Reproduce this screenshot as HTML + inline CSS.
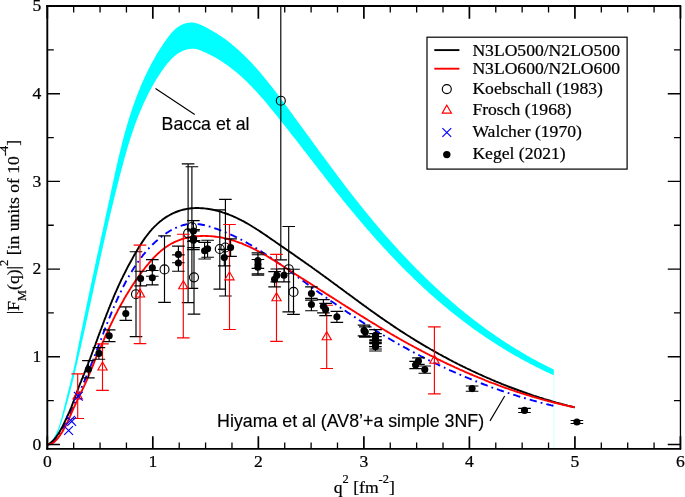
<!DOCTYPE html>
<html lang="en"><head><meta charset="utf-8"><title>|F_M(q)|^2 form factor</title>
<style>html,body{margin:0;padding:0;background:#fff}svg{display:block}.ser{font-family:"Liberation Serif","Times New Roman",serif;stroke:#000;stroke-width:0.22px}.san{font-family:"Liberation Sans",Arial,Helvetica,sans-serif;stroke:#000;stroke-width:0.15px}</style></head><body>
<svg width="685" height="497" viewBox="0 0 685 497">
<rect width="685" height="497" fill="#fff"/>
<path d="M47.6 444.7 L48.8 443.7 L49.9 442.7 L51.0 441.6 L52.0 440.4 L52.9 439.2 L53.7 437.9 L54.5 436.6 L55.3 435.2 L56.0 433.8 L56.6 432.4 L57.2 431.0 L57.8 429.5 L58.4 428.0 L58.9 426.6 L59.4 425.1 L59.9 423.6 L60.3 422.1 L60.8 420.6 L61.2 419.1 L61.6 417.6 L62.0 416.1 L62.4 414.6 L62.8 413.1 L63.1 411.6 L63.5 410.1 L63.9 408.6 L64.2 407.1 L64.6 405.6 L65.0 404.1 L65.3 402.6 L65.7 401.1 L66.1 399.6 L66.5 398.1 L66.9 396.6 L67.2 395.1 L67.6 393.6 L68.0 392.1 L68.4 390.6 L68.8 389.1 L69.1 387.6 L69.5 386.1 L69.9 384.5 L70.3 383.0 L70.6 381.5 L71.0 380.0 L71.4 378.5 L71.7 377.0 L72.1 375.5 L72.5 374.0 L72.8 372.5 L73.2 371.0 L73.5 369.5 L73.9 367.9 L74.2 366.4 L74.5 364.9 L74.9 363.4 L75.2 361.9 L75.5 360.4 L75.8 358.8 L76.1 357.3 L76.4 355.8 L76.7 354.3 L77.0 352.7 L77.3 351.2 L77.6 349.7 L77.9 348.2 L78.2 346.7 L78.5 345.1 L78.8 343.6 L79.1 342.1 L79.4 340.6 L79.7 339.0 L80.0 337.5 L80.3 336.0 L80.6 334.5 L80.9 333.0 L81.2 331.4 L81.6 329.9 L81.9 328.4 L82.2 326.9 L82.5 325.4 L82.8 323.8 L83.1 322.3 L83.4 320.8 L83.7 319.3 L84.0 317.8 L84.3 316.2 L84.7 314.7 L85.0 313.2 L85.3 311.7 L85.6 310.2 L85.9 308.6 L86.2 307.1 L86.5 305.6 L86.9 304.1 L87.2 302.6 L87.5 301.0 L87.8 299.5 L88.1 298.0 L88.4 296.5 L88.8 295.0 L89.1 293.5 L89.4 291.9 L89.7 290.4 L90.0 288.9 L90.4 287.4 L90.7 285.9 L91.0 284.4 L91.3 282.8 L91.7 281.3 L92.0 279.8 L92.3 278.3 L92.6 276.8 L93.0 275.3 L93.3 273.7 L93.6 272.2 L93.9 270.7 L94.3 269.2 L94.6 267.7 L94.9 266.2 L95.2 264.6 L95.6 263.1 L95.9 261.6 L96.2 260.1 L96.5 258.6 L96.9 257.1 L97.2 255.5 L97.5 254.0 L97.9 252.5 L98.2 251.0 L98.5 249.5 L98.8 248.0 L99.2 246.4 L99.5 244.9 L99.8 243.4 L100.2 241.9 L100.5 240.4 L100.8 238.9 L101.1 237.3 L101.5 235.8 L101.8 234.3 L102.1 232.8 L102.5 231.3 L102.8 229.8 L103.1 228.2 L103.4 226.7 L103.8 225.2 L104.1 223.7 L104.4 222.2 L104.8 220.7 L105.1 219.1 L105.4 217.6 L105.7 216.1 L106.1 214.6 L106.4 213.1 L106.7 211.6 L107.1 210.0 L107.4 208.5 L107.7 207.0 L108.0 205.5 L108.4 204.0 L108.7 202.5 L109.0 200.9 L109.4 199.4 L109.7 197.9 L110.0 196.4 L110.3 194.9 L110.7 193.4 L111.0 191.8 L111.3 190.3 L111.6 188.8 L112.0 187.3 L112.3 185.8 L112.6 184.2 L112.9 182.7 L113.3 181.2 L113.6 179.7 L113.9 178.2 L114.3 176.7 L114.6 175.1 L114.9 173.6 L115.3 172.1 L115.6 170.6 L115.9 169.1 L116.3 167.6 L116.6 166.1 L117.0 164.5 L117.3 163.0 L117.7 161.5 L118.0 160.0 L118.4 158.5 L118.7 157.0 L119.1 155.5 L119.4 154.0 L119.8 152.5 L120.2 151.0 L120.5 149.5 L120.9 147.9 L121.3 146.4 L121.6 144.9 L122.0 143.4 L122.4 141.9 L122.8 140.4 L123.2 138.9 L123.6 137.4 L124.0 135.9 L124.4 134.4 L124.8 133.0 L125.2 131.5 L125.6 130.0 L126.1 128.5 L126.5 127.0 L126.9 125.5 L127.4 124.0 L127.8 122.5 L128.3 121.0 L128.7 119.6 L129.2 118.1 L129.6 116.6 L130.1 115.1 L130.6 113.7 L131.1 112.2 L131.5 110.7 L132.0 109.2 L132.5 107.8 L133.0 106.3 L133.6 104.8 L134.1 103.4 L134.6 101.9 L135.1 100.5 L135.7 99.0 L136.2 97.6 L136.8 96.1 L137.3 94.7 L137.9 93.2 L138.5 91.8 L139.0 90.3 L139.6 88.9 L140.2 87.5 L140.8 86.0 L141.4 84.6 L142.0 83.2 L142.6 81.8 L143.3 80.3 L143.9 78.9 L144.6 77.5 L145.2 76.1 L145.9 74.7 L146.5 73.3 L147.2 71.9 L147.9 70.5 L148.6 69.1 L149.3 67.8 L150.0 66.4 L150.7 65.0 L151.5 63.6 L152.2 62.3 L152.9 60.9 L153.7 59.5 L154.5 58.2 L155.2 56.8 L156.0 55.5 L156.8 54.1 L157.6 52.8 L158.4 51.5 L159.2 50.2 L160.1 48.8 L160.9 47.5 L161.8 46.2 L162.6 44.9 L163.5 43.6 L164.4 42.3 L165.3 41.0 L166.2 39.7 L167.1 38.4 L168.0 37.2 L169.0 35.9 L169.9 34.7 L170.9 33.5 L171.9 32.4 L173.0 31.2 L174.1 30.2 L175.2 29.1 L176.3 28.2 L177.5 27.3 L178.8 26.4 L180.1 25.6 L181.4 24.9 L182.8 24.3 L184.2 23.7 L185.7 23.3 L187.2 22.9 L188.7 22.7 L190.3 22.5 L191.8 22.5 L193.4 22.6 L195.0 22.9 L196.5 23.3 L198.1 23.8 L199.7 24.4 L201.3 25.1 L202.8 25.8 L204.4 26.5 L205.9 27.3 L207.4 28.1 L208.9 28.9 L210.3 29.7 L211.8 30.5 L213.2 31.4 L214.7 32.2 L216.1 33.1 L217.5 34.0 L218.9 34.9 L220.3 35.8 L221.7 36.7 L223.0 37.7 L224.4 38.6 L225.7 39.6 L227.0 40.6 L228.3 41.6 L229.6 42.6 L230.9 43.6 L232.2 44.7 L233.5 45.7 L234.8 46.8 L236.0 47.9 L237.3 49.0 L238.5 50.1 L239.7 51.2 L240.9 52.3 L242.1 53.4 L243.3 54.6 L244.5 55.7 L245.7 56.9 L246.9 58.1 L248.0 59.2 L249.2 60.4 L250.3 61.6 L251.5 62.8 L252.6 64.1 L253.7 65.3 L254.9 66.5 L256.0 67.8 L257.1 69.0 L258.2 70.3 L259.3 71.5 L260.4 72.8 L261.5 74.1 L262.5 75.4 L263.6 76.6 L264.7 77.9 L265.7 79.2 L266.8 80.5 L267.8 81.8 L268.9 83.2 L269.9 84.5 L271.0 85.8 L272.0 87.1 L273.1 88.5 L274.1 89.8 L275.1 91.1 L276.1 92.5 L277.2 93.8 L278.2 95.2 L279.2 96.5 L280.2 97.9 L281.2 99.2 L282.2 100.6 L283.2 101.9 L284.2 103.3 L285.2 104.6 L286.3 106.0 L287.3 107.3 L288.3 108.7 L289.3 110.1 L290.3 111.4 L291.3 112.8 L292.3 114.1 L293.3 115.5 L294.3 116.9 L295.3 118.2 L296.3 119.6 L297.2 120.9 L298.2 122.3 L299.2 123.7 L300.2 125.0 L301.2 126.4 L302.2 127.7 L303.2 129.1 L304.2 130.5 L305.2 131.8 L306.2 133.2 L307.2 134.5 L308.2 135.9 L309.2 137.3 L310.2 138.6 L311.2 140.0 L312.2 141.3 L313.1 142.7 L314.1 144.1 L315.1 145.4 L316.1 146.8 L317.1 148.1 L318.1 149.5 L319.1 150.9 L320.1 152.2 L321.1 153.6 L322.1 154.9 L323.1 156.3 L324.1 157.6 L325.1 159.0 L326.1 160.3 L327.1 161.7 L328.1 163.0 L329.1 164.4 L330.1 165.7 L331.1 167.1 L332.1 168.4 L333.1 169.8 L334.1 171.1 L335.1 172.5 L336.1 173.8 L337.1 175.2 L338.1 176.5 L339.2 177.9 L340.2 179.2 L341.2 180.5 L342.2 181.9 L343.2 183.2 L344.2 184.5 L345.3 185.9 L346.3 187.2 L347.3 188.5 L348.3 189.9 L349.3 191.2 L350.4 192.5 L351.4 193.9 L352.4 195.2 L353.5 196.5 L354.5 197.8 L355.5 199.2 L356.6 200.5 L357.6 201.8 L358.7 203.1 L359.7 204.4 L360.8 205.7 L361.8 207.1 L362.9 208.4 L363.9 209.7 L365.0 211.0 L366.0 212.3 L367.1 213.6 L368.2 214.9 L369.2 216.2 L370.3 217.5 L371.4 218.8 L372.4 220.1 L373.5 221.4 L374.6 222.7 L375.7 223.9 L376.8 225.2 L377.8 226.5 L378.9 227.8 L380.0 229.1 L381.1 230.4 L382.2 231.6 L383.3 232.9 L384.4 234.2 L385.5 235.4 L386.6 236.7 L387.7 238.0 L388.9 239.2 L390.0 240.5 L391.1 241.7 L392.2 243.0 L393.3 244.2 L394.5 245.5 L395.6 246.7 L396.7 248.0 L397.9 249.2 L399.0 250.5 L400.1 251.7 L401.3 252.9 L402.4 254.2 L403.6 255.4 L404.7 256.6 L405.9 257.8 L407.0 259.1 L408.2 260.3 L409.4 261.5 L410.5 262.7 L411.7 263.9 L412.9 265.1 L414.0 266.3 L415.2 267.5 L416.4 268.7 L417.6 269.9 L418.8 271.1 L420.0 272.3 L421.1 273.5 L422.3 274.6 L423.5 275.8 L424.7 277.0 L425.9 278.2 L427.2 279.3 L428.4 280.5 L429.6 281.7 L430.8 282.8 L432.0 284.0 L433.2 285.1 L434.5 286.3 L435.7 287.4 L436.9 288.5 L438.2 289.7 L439.4 290.8 L440.6 291.9 L441.9 293.1 L443.1 294.2 L444.4 295.3 L445.6 296.4 L446.9 297.5 L448.1 298.6 L449.4 299.7 L450.7 300.8 L451.9 301.9 L453.2 303.0 L454.5 304.1 L455.8 305.2 L457.0 306.3 L458.3 307.4 L459.6 308.4 L460.9 309.5 L462.2 310.6 L463.5 311.6 L464.8 312.7 L466.1 313.7 L467.4 314.8 L468.7 315.8 L470.0 316.8 L471.4 317.9 L472.7 318.9 L474.0 319.9 L475.3 321.0 L476.7 322.0 L478.0 323.0 L479.3 324.0 L480.7 325.0 L482.0 326.0 L483.4 327.0 L484.7 328.0 L486.1 329.0 L487.4 329.9 L488.8 330.9 L490.2 331.9 L491.5 332.8 L492.9 333.8 L494.3 334.8 L495.7 335.7 L497.0 336.7 L498.4 337.6 L499.8 338.5 L501.2 339.5 L502.6 340.4 L504.0 341.3 L505.4 342.2 L506.8 343.2 L508.2 344.1 L509.7 345.0 L511.1 345.9 L512.5 346.8 L513.9 347.6 L515.3 348.5 L516.8 349.4 L518.2 350.3 L519.7 351.1 L521.1 352.0 L522.5 352.8 L524.0 353.7 L525.5 354.5 L526.9 355.4 L528.4 356.2 L529.8 357.0 L531.3 357.9 L532.8 358.7 L534.3 359.5 L535.7 360.3 L537.2 361.1 L538.7 361.9 L540.2 362.7 L541.7 363.5 L543.2 364.2 L544.7 365.0 L546.2 365.8 L547.7 366.5 L549.2 367.3 L550.8 368.0 L552.3 368.8 L553.8 369.5 L553.8 375.2 L552.3 374.6 L550.8 373.9 L549.3 373.2 L547.8 372.5 L546.4 371.9 L544.9 371.2 L543.4 370.5 L541.9 369.7 L540.5 369.0 L539.0 368.3 L537.5 367.6 L536.1 366.9 L534.6 366.1 L533.2 365.4 L531.7 364.6 L530.2 363.9 L528.8 363.1 L527.3 362.3 L525.9 361.6 L524.5 360.8 L523.0 360.0 L521.6 359.2 L520.1 358.4 L518.7 357.6 L517.3 356.8 L515.8 356.0 L514.4 355.2 L513.0 354.4 L511.6 353.6 L510.2 352.7 L508.7 351.9 L507.3 351.0 L505.9 350.2 L504.5 349.3 L503.1 348.5 L501.7 347.6 L500.3 346.8 L498.9 345.9 L497.5 345.0 L496.1 344.1 L494.7 343.2 L493.4 342.3 L492.0 341.4 L490.6 340.5 L489.2 339.6 L487.9 338.7 L486.5 337.8 L485.1 336.9 L483.8 336.0 L482.4 335.0 L481.0 334.1 L479.7 333.2 L478.3 332.2 L477.0 331.3 L475.7 330.3 L474.3 329.4 L473.0 328.4 L471.6 327.4 L470.3 326.5 L469.0 325.5 L467.7 324.5 L466.3 323.5 L465.0 322.5 L463.7 321.6 L462.4 320.6 L461.1 319.6 L459.8 318.6 L458.5 317.6 L457.2 316.5 L455.9 315.5 L454.6 314.5 L453.4 313.5 L452.1 312.5 L450.8 311.4 L449.5 310.4 L448.3 309.4 L447.0 308.3 L445.7 307.3 L444.5 306.2 L443.2 305.2 L442.0 304.1 L440.7 303.1 L439.5 302.0 L438.2 300.9 L437.0 299.9 L435.8 298.8 L434.5 297.7 L433.3 296.6 L432.1 295.5 L430.8 294.5 L429.6 293.4 L428.4 292.3 L427.2 291.2 L426.0 290.1 L424.8 289.0 L423.6 287.9 L422.4 286.7 L421.2 285.6 L420.0 284.5 L418.8 283.4 L417.6 282.3 L416.4 281.1 L415.2 280.0 L414.0 278.9 L412.9 277.7 L411.7 276.6 L410.5 275.5 L409.4 274.3 L408.2 273.2 L407.0 272.0 L405.9 270.9 L404.7 269.7 L403.6 268.5 L402.4 267.4 L401.3 266.2 L400.1 265.0 L399.0 263.9 L397.8 262.7 L396.7 261.5 L395.5 260.3 L394.4 259.2 L393.3 258.0 L392.2 256.8 L391.0 255.6 L389.9 254.4 L388.8 253.2 L387.7 252.0 L386.6 250.8 L385.4 249.6 L384.3 248.4 L383.2 247.2 L382.1 246.0 L381.0 244.8 L379.9 243.6 L378.8 242.4 L377.7 241.1 L376.6 239.9 L375.5 238.7 L374.4 237.5 L373.4 236.3 L372.3 235.0 L371.2 233.8 L370.1 232.6 L369.0 231.3 L367.9 230.1 L366.9 228.9 L365.8 227.6 L364.7 226.4 L363.7 225.1 L362.6 223.9 L361.5 222.6 L360.5 221.4 L359.4 220.1 L358.4 218.9 L357.3 217.6 L356.2 216.4 L355.2 215.1 L354.1 213.8 L353.1 212.6 L352.0 211.3 L351.0 210.1 L350.0 208.8 L348.9 207.5 L347.9 206.3 L346.8 205.0 L345.8 203.7 L344.8 202.4 L343.7 201.2 L342.7 199.9 L341.7 198.6 L340.7 197.3 L339.6 196.0 L338.6 194.8 L337.6 193.5 L336.6 192.2 L335.5 190.9 L334.5 189.6 L333.5 188.3 L332.5 187.0 L331.5 185.8 L330.5 184.5 L329.4 183.2 L328.4 181.9 L327.4 180.6 L326.4 179.3 L325.4 178.0 L324.4 176.7 L323.4 175.4 L322.4 174.1 L321.3 172.8 L320.3 171.5 L319.3 170.2 L318.3 168.9 L317.3 167.6 L316.3 166.3 L315.3 165.0 L314.3 163.7 L313.3 162.4 L312.3 161.1 L311.3 159.8 L310.3 158.5 L309.3 157.2 L308.3 155.9 L307.3 154.6 L306.3 153.3 L305.2 152.0 L304.2 150.7 L303.2 149.4 L302.2 148.1 L301.2 146.8 L300.2 145.5 L299.2 144.2 L298.2 142.9 L297.2 141.6 L296.2 140.3 L295.2 139.1 L294.2 137.8 L293.1 136.5 L292.1 135.2 L291.1 133.9 L290.1 132.6 L289.1 131.3 L288.1 130.0 L287.1 128.7 L286.0 127.4 L285.0 126.1 L284.0 124.8 L283.0 123.5 L281.9 122.2 L280.9 121.0 L279.9 119.7 L278.9 118.4 L277.8 117.1 L276.8 115.8 L275.8 114.5 L274.7 113.3 L273.7 112.0 L272.7 110.7 L271.6 109.4 L270.6 108.2 L269.5 106.9 L268.5 105.6 L267.4 104.4 L266.4 103.1 L265.3 101.8 L264.2 100.6 L263.2 99.3 L262.1 98.1 L261.0 96.9 L259.9 95.6 L258.9 94.4 L257.8 93.2 L256.7 92.0 L255.6 90.8 L254.4 89.6 L253.3 88.4 L252.2 87.2 L251.1 86.1 L249.9 84.9 L248.8 83.7 L247.6 82.6 L246.5 81.5 L245.3 80.3 L244.1 79.2 L243.0 78.1 L241.8 77.0 L240.6 75.9 L239.3 74.8 L238.1 73.8 L236.9 72.7 L235.7 71.7 L234.4 70.7 L233.2 69.7 L231.9 68.7 L230.6 67.7 L229.3 66.7 L228.0 65.7 L226.7 64.8 L225.4 63.9 L224.0 63.0 L222.7 62.1 L221.3 61.2 L220.0 60.3 L218.6 59.5 L217.2 58.6 L215.8 57.8 L214.3 57.0 L212.9 56.2 L211.4 55.5 L210.0 54.7 L208.5 54.0 L207.0 53.3 L205.5 52.6 L204.0 51.9 L202.4 51.3 L200.9 50.6 L199.3 50.0 L197.7 49.4 L196.1 48.9 L194.5 48.7 L193.0 48.7 L191.5 48.8 L190.0 48.9 L188.6 49.1 L187.2 49.4 L185.8 49.7 L184.5 50.2 L183.2 50.7 L181.9 51.2 L180.7 51.9 L179.4 52.6 L178.3 53.3 L177.1 54.1 L176.0 54.9 L174.9 55.8 L173.8 56.8 L172.7 57.7 L171.7 58.7 L170.7 59.8 L169.7 60.9 L168.7 62.0 L167.8 63.1 L166.8 64.3 L165.9 65.5 L165.0 66.6 L164.1 67.9 L163.2 69.1 L162.4 70.3 L161.5 71.5 L160.7 72.8 L159.9 74.0 L159.0 75.2 L158.2 76.5 L157.4 77.8 L156.6 79.0 L155.9 80.3 L155.1 81.5 L154.4 82.8 L153.6 84.1 L152.9 85.4 L152.1 86.6 L151.4 87.9 L150.7 89.2 L150.0 90.5 L149.3 91.8 L148.7 93.1 L148.0 94.4 L147.3 95.7 L146.7 97.0 L146.1 98.4 L145.4 99.7 L144.8 101.0 L144.2 102.3 L143.6 103.6 L143.0 105.0 L142.4 106.3 L141.8 107.7 L141.2 109.0 L140.7 110.3 L140.1 111.7 L139.5 113.0 L139.0 114.4 L138.4 115.7 L137.9 117.1 L137.4 118.5 L136.9 119.8 L136.4 121.2 L135.8 122.5 L135.3 123.9 L134.8 125.3 L134.4 126.7 L133.9 128.0 L133.4 129.4 L132.9 130.8 L132.5 132.2 L132.0 133.6 L131.5 134.9 L131.1 136.3 L130.6 137.7 L130.2 139.1 L129.8 140.5 L129.3 141.9 L128.9 143.3 L128.5 144.7 L128.0 146.1 L127.6 147.5 L127.2 148.9 L126.8 150.3 L126.4 151.7 L126.0 153.1 L125.6 154.5 L125.2 155.9 L124.8 157.3 L124.4 158.7 L124.0 160.2 L123.6 161.6 L123.2 163.0 L122.9 164.4 L122.5 165.8 L122.1 167.2 L121.7 168.6 L121.4 170.0 L121.0 171.5 L120.6 172.9 L120.2 174.3 L119.9 175.7 L119.5 177.1 L119.1 178.5 L118.8 179.9 L118.4 181.4 L118.1 182.8 L117.7 184.2 L117.3 185.6 L117.0 187.0 L116.6 188.5 L116.3 189.9 L115.9 191.3 L115.6 192.7 L115.2 194.1 L114.9 195.5 L114.5 197.0 L114.2 198.4 L113.8 199.8 L113.5 201.2 L113.1 202.7 L112.8 204.1 L112.4 205.5 L112.1 206.9 L111.8 208.3 L111.4 209.8 L111.1 211.2 L110.7 212.6 L110.4 214.0 L110.1 215.5 L109.7 216.9 L109.4 218.3 L109.1 219.7 L108.7 221.1 L108.4 222.6 L108.1 224.0 L107.8 225.4 L107.4 226.8 L107.1 228.3 L106.8 229.7 L106.4 231.1 L106.1 232.5 L105.8 234.0 L105.5 235.4 L105.1 236.8 L104.8 238.2 L104.5 239.7 L104.2 241.1 L103.9 242.5 L103.5 244.0 L103.2 245.4 L102.9 246.8 L102.6 248.2 L102.3 249.7 L101.9 251.1 L101.6 252.5 L101.3 253.9 L101.0 255.4 L100.7 256.8 L100.4 258.2 L100.0 259.7 L99.7 261.1 L99.4 262.5 L99.1 263.9 L98.8 265.4 L98.5 266.8 L98.2 268.2 L97.9 269.7 L97.5 271.1 L97.2 272.5 L96.9 273.9 L96.6 275.4 L96.3 276.8 L96.0 278.2 L95.7 279.7 L95.4 281.1 L95.0 282.5 L94.7 284.0 L94.4 285.4 L94.1 286.8 L93.8 288.2 L93.5 289.7 L93.2 291.1 L92.9 292.5 L92.6 294.0 L92.3 295.4 L91.9 296.8 L91.6 298.3 L91.3 299.7 L91.0 301.1 L90.7 302.5 L90.4 304.0 L90.1 305.4 L89.8 306.8 L89.4 308.3 L89.1 309.7 L88.8 311.1 L88.5 312.6 L88.2 314.0 L87.9 315.4 L87.6 316.8 L87.3 318.3 L86.9 319.7 L86.6 321.1 L86.3 322.6 L86.0 324.0 L85.7 325.4 L85.4 326.8 L85.0 328.3 L84.7 329.7 L84.4 331.1 L84.1 332.6 L83.8 334.0 L83.5 335.4 L83.1 336.9 L82.8 338.3 L82.5 339.7 L82.2 341.1 L81.8 342.6 L81.5 344.0 L81.2 345.4 L80.9 346.9 L80.6 348.3 L80.2 349.7 L79.9 351.1 L79.6 352.6 L79.2 354.0 L78.9 355.4 L78.6 356.8 L78.3 358.3 L77.9 359.7 L77.6 361.1 L77.3 362.6 L76.9 364.0 L76.6 365.4 L76.3 366.8 L75.9 368.3 L75.6 369.7 L75.2 371.1 L74.9 372.5 L74.6 374.0 L74.2 375.4 L73.9 376.8 L73.5 378.2 L73.2 379.7 L72.8 381.1 L72.5 382.5 L72.1 383.9 L71.8 385.3 L71.4 386.8 L71.0 388.2 L70.7 389.6 L70.3 391.0 L70.0 392.4 L69.6 393.8 L69.2 395.3 L68.8 396.7 L68.5 398.1 L68.1 399.5 L67.7 400.9 L67.3 402.3 L66.9 403.7 L66.5 405.1 L66.1 406.5 L65.8 408.0 L65.4 409.4 L64.9 410.8 L64.5 412.2 L64.1 413.6 L63.7 415.0 L63.3 416.4 L62.9 417.8 L62.5 419.2 L62.0 420.6 L61.6 422.0 L61.2 423.3 L60.7 424.7 L60.3 426.1 L59.8 427.5 L59.4 428.9 L58.9 430.3 L58.4 431.6 L57.9 433.0 L57.3 434.3 L56.6 435.6 L55.9 436.9 L55.0 438.2 L54.0 439.3 L52.9 440.5 L51.8 441.6 L50.8 442.7 L50.2 443.9 L49.7 444.9 L47.5 444.5 Z" fill="#00ffff"/>
<path d="M553.8 375 V448" stroke="#c8ffff" stroke-width="0.8" fill="none"/>
<path d="M553.4 405.8 L552.1 405.5 L550.7 405.2 L549.4 404.8 L548.1 404.5 L546.7 404.2 L545.4 403.8 L544.1 403.5 L542.8 403.2 L541.4 402.8 L540.1 402.5 L538.8 402.1 L537.5 401.8 L536.2 401.4 L534.8 401.0 L533.5 400.7 L532.2 400.3 L530.9 399.9 L529.6 399.6 L528.3 399.2 L526.9 398.8 L525.6 398.4 L524.3 398.0 L523.0 397.6 L521.7 397.3 L520.4 396.9 L519.1 396.5 L517.8 396.1 L516.5 395.6 L515.2 395.2 L513.9 394.8 L512.5 394.4 L511.2 394.0 L509.9 393.6 L508.6 393.1 L507.3 392.7 L506.1 392.3 L504.8 391.8 L503.5 391.4 L502.2 391.0 L500.9 390.5 L499.6 390.1 L498.3 389.6 L497.0 389.2 L495.7 388.7 L494.4 388.2 L493.1 387.8 L491.8 387.3 L490.6 386.8 L489.3 386.4 L488.0 385.9 L486.7 385.4 L485.4 384.9 L484.2 384.5 L482.9 384.0 L481.6 383.5 L480.3 383.0 L479.1 382.5 L477.8 382.0 L476.5 381.5 L475.2 381.0 L474.0 380.5 L472.7 380.0 L471.4 379.4 L470.2 378.9 L468.9 378.4 L467.6 377.9 L466.4 377.4 L465.1 376.8 L463.9 376.3 L462.6 375.8 L461.3 375.2 L460.1 374.7 L458.8 374.1 L457.6 373.6 L456.3 373.0 L455.1 372.5 L453.8 371.9 L452.6 371.4 L451.3 370.8 L450.1 370.3 L448.8 369.7 L447.6 369.1 L446.3 368.6 L445.1 368.0 L443.9 367.4 L442.6 366.8 L441.4 366.2 L440.1 365.7 L438.9 365.1 L437.7 364.5 L436.4 363.9 L435.2 363.3 L434.0 362.7 L432.8 362.1 L431.5 361.5 L430.3 360.9 L429.1 360.3 L427.9 359.7 L426.6 359.1 L425.4 358.4 L424.2 357.8 L423.0 357.2 L421.8 356.6 L420.5 356.0 L419.3 355.3 L418.1 354.7 L416.9 354.1 L415.7 353.4 L414.5 352.8 L413.3 352.1 L412.1 351.5 L410.9 350.9 L409.7 350.2 L408.5 349.6 L407.3 348.9 L406.1 348.2 L404.9 347.6 L403.7 346.9 L402.5 346.3 L401.3 345.6 L400.1 344.9 L398.9 344.3 L397.7 343.6 L396.5 342.9 L395.3 342.2 L394.1 341.5 L393.0 340.9 L391.8 340.2 L390.6 339.5 L389.4 338.8 L388.2 338.1 L387.1 337.4 L385.9 336.7 L384.7 336.0 L383.5 335.3 L382.4 334.6 L381.2 333.9 L380.0 333.2 L378.9 332.5 L377.7 331.8 L376.5 331.1 L375.4 330.3 L374.2 329.6 L373.1 328.9 L371.9 328.2 L370.7 327.5 L369.6 326.7 L368.4 326.0 L367.3 325.3 L366.1 324.5 L365.0 323.8 L363.8 323.1 L362.7 322.3 L361.5 321.6 L360.4 320.8 L359.2 320.1 L358.1 319.3 L356.9 318.6 L355.8 317.9 L354.7 317.1 L353.5 316.3 L352.4 315.6 L351.2 314.8 L350.1 314.1 L349.0 313.3 L347.8 312.6 L346.7 311.8 L345.6 311.0 L344.4 310.3 L343.3 309.5 L342.2 308.7 L341.0 308.0 L339.9 307.2 L338.8 306.4 L337.7 305.6 L336.5 304.9 L335.4 304.1 L334.3 303.3 L333.2 302.5 L332.0 301.7 L330.9 301.0 L329.8 300.2 L328.7 299.4 L327.6 298.6 L326.4 297.8 L325.3 297.0 L324.2 296.2 L323.1 295.4 L322.0 294.6 L320.9 293.8 L319.7 293.1 L318.6 292.3 L317.5 291.5 L316.4 290.7 L315.3 289.9 L314.2 289.1 L313.1 288.3 L312.0 287.5 L310.8 286.6 L309.7 285.8 L308.6 285.0 L307.5 284.2 L306.4 283.4 L305.3 282.6 L304.2 281.8 L303.1 281.0 L302.0 280.2 L300.9 279.4 L299.8 278.6 L298.7 277.8 L297.6 276.9 L296.5 276.1 L295.4 275.3 L294.3 274.5 L293.2 273.7 L292.0 272.9 L290.9 272.1 L289.8 271.3 L288.7 270.5 L287.6 269.7 L286.5 268.8 L285.4 268.0 L284.3 267.2 L283.2 266.4 L282.1 265.6 L281.0 264.8 L279.8 264.0 L278.7 263.3 L277.6 262.5 L276.5 261.7 L275.4 260.9 L274.2 260.1 L273.1 259.3 L272.0 258.6 L270.9 257.8 L269.7 257.0 L268.6 256.3 L267.5 255.5 L266.3 254.7 L265.2 254.0 L264.1 253.2 L262.9 252.5 L261.8 251.8 L260.6 251.0 L259.5 250.3 L258.3 249.6 L257.1 248.8 L256.0 248.1 L254.8 247.4 L253.7 246.7 L252.5 246.0 L251.3 245.3 L250.1 244.6 L249.0 244.0 L247.8 243.3 L246.6 242.6 L245.4 242.0 L244.2 241.3 L243.0 240.7 L241.8 240.0 L240.6 239.4 L239.4 238.8 L238.2 238.1 L236.9 237.5 L235.7 236.9 L234.5 236.3 L233.2 235.7 L232.0 235.2 L230.8 234.6 L229.5 234.0 L228.3 233.5 L227.0 232.9 L225.7 232.4 L224.5 231.9 L223.2 231.4 L221.9 230.8 L220.6 230.3 L219.3 229.9 L218.0 229.4 L216.7 228.9 L215.4 228.5 L214.1 228.0 L212.8 227.6 L211.5 227.1 L210.1 226.7 L208.8 226.3 L207.5 226.0 L206.1 225.6 L204.8 225.3 L203.4 225.0 L202.1 224.7 L200.7 224.5 L199.4 224.3 L198.0 224.1 L196.7 224.0 L195.4 223.9 L194.0 223.8 L192.7 223.8 L191.4 223.8 L190.0 223.9 L188.7 224.0 L187.4 224.2 L186.1 224.4 L184.8 224.7 L183.5 225.0 L182.2 225.4 L180.9 225.8 L179.6 226.2 L178.4 226.7 L177.1 227.2 L175.8 227.8 L174.6 228.4 L173.4 229.0 L172.2 229.6 L170.9 230.3 L169.7 231.0 L168.6 231.7 L167.4 232.5 L166.2 233.3 L165.1 234.1 L163.9 234.9 L162.8 235.7 L161.7 236.5 L160.6 237.4 L159.5 238.3 L158.5 239.2 L157.4 240.1 L156.4 241.0 L155.4 241.9 L154.4 242.8 L153.4 243.8 L152.4 244.7 L151.4 245.7 L150.4 246.7 L149.5 247.7 L148.6 248.7 L147.6 249.7 L146.7 250.7 L145.8 251.8 L145.0 252.8 L144.1 253.9 L143.2 254.9 L142.4 256.0 L141.5 257.1 L140.7 258.2 L139.9 259.3 L139.1 260.4 L138.3 261.5 L137.5 262.6 L136.7 263.7 L136.0 264.8 L135.2 265.9 L134.5 267.1 L133.7 268.2 L133.0 269.4 L132.3 270.5 L131.6 271.7 L130.9 272.8 L130.2 274.0 L129.5 275.2 L128.8 276.4 L128.1 277.6 L127.5 278.7 L126.8 279.9 L126.2 281.1 L125.5 282.3 L124.9 283.5 L124.3 284.8 L123.6 286.0 L123.0 287.2 L122.4 288.4 L121.8 289.6 L121.2 290.9 L120.6 292.1 L120.0 293.3 L119.4 294.5 L118.9 295.8 L118.3 297.0 L117.7 298.3 L117.2 299.5 L116.6 300.8 L116.0 302.0 L115.5 303.3 L114.9 304.5 L114.4 305.8 L113.9 307.0 L113.3 308.3 L112.8 309.6 L112.3 310.8 L111.7 312.1 L111.2 313.3 L110.7 314.6 L110.2 315.9 L109.7 317.2 L109.1 318.4 L108.6 319.7 L108.1 321.0 L107.6 322.2 L107.1 323.5 L106.6 324.8 L106.1 326.1 L105.6 327.4 L105.1 328.6 L104.6 329.9 L104.1 331.2 L103.6 332.5 L103.1 333.8 L102.6 335.0 L102.2 336.3 L101.7 337.6 L101.2 338.9 L100.7 340.2 L100.2 341.4 L99.7 342.7 L99.2 344.0 L98.7 345.3 L98.2 346.6 L97.8 347.9 L97.3 349.1 L96.8 350.4 L96.3 351.7 L95.8 353.0 L95.3 354.2 L94.8 355.5 L94.3 356.8 L93.8 358.1 L93.3 359.3 L92.8 360.6 L92.3 361.9 L91.8 363.1 L91.3 364.4 L90.8 365.7 L90.3 366.9 L89.7 368.2 L89.2 369.4 L88.7 370.7 L88.2 372.0 L87.7 373.2 L87.1 374.5 L86.6 375.7 L86.1 377.0 L85.6 378.3 L85.0 379.5 L84.5 380.8 L84.0 382.0 L83.4 383.3 L82.9 384.5 L82.4 385.8 L81.8 387.0 L81.3 388.3 L80.8 389.5 L80.2 390.8 L79.7 392.1 L79.1 393.3 L78.6 394.6 L78.1 395.8 L77.5 397.1 L77.0 398.3 L76.4 399.6 L75.9 400.9 L75.3 402.1 L74.8 403.4 L74.2 404.6 L73.7 405.9 L73.1 407.2 L72.6 408.4 L72.0 409.7 L71.4 411.0 L70.9 412.2 L70.3 413.5 L69.8 414.7 L69.2 416.0 L68.6 417.3 L68.0 418.5 L67.4 419.8 L66.8 421.0 L66.2 422.2 L65.6 423.4 L64.9 424.7 L64.3 425.9 L63.6 427.1 L62.9 428.2 L62.3 429.4 L61.5 430.6 L60.8 431.7 L60.1 432.9 L59.3 434.0 L58.5 435.1 L57.7 436.2 L56.9 437.2 L56.1 438.3 L55.2 439.3 L54.3 440.3 L53.3 441.2 L52.3 442.1 L51.3 442.9 L50.1 443.7 L48.9 444.3 L47.6 444.8" fill="none" stroke="#0000ff" stroke-width="1.9" stroke-dasharray="7.3 4.05 1.8 4.05" stroke-dashoffset="0"/>
<path d="M47.6 444.8 L48.9 444.0 L50.0 443.2 L51.2 442.3 L52.2 441.3 L53.2 440.3 L54.2 439.3 L55.1 438.2 L56.0 437.1 L56.9 435.9 L57.7 434.7 L58.5 433.5 L59.3 432.3 L60.0 431.0 L60.7 429.8 L61.4 428.5 L62.1 427.2 L62.8 425.9 L63.4 424.6 L64.1 423.2 L64.7 421.9 L65.3 420.6 L66.0 419.3 L66.6 417.9 L67.2 416.6 L67.8 415.3 L68.4 414.0 L69.0 412.7 L69.6 411.3 L70.2 410.0 L70.7 408.7 L71.3 407.4 L71.8 406.0 L72.3 404.7 L72.8 403.3 L73.3 401.9 L73.8 400.6 L74.3 399.2 L74.8 397.8 L75.3 396.5 L75.8 395.1 L76.3 393.7 L76.8 392.4 L77.3 391.0 L77.8 389.7 L78.3 388.3 L78.8 386.9 L79.3 385.6 L79.9 384.2 L80.4 382.9 L81.0 381.6 L81.5 380.2 L82.0 378.9 L82.6 377.5 L83.1 376.2 L83.7 374.8 L84.2 373.5 L84.8 372.2 L85.3 370.8 L85.8 369.5 L86.4 368.1 L86.9 366.8 L87.4 365.4 L88.0 364.0 L88.5 362.7 L89.0 361.3 L89.5 360.0 L90.1 358.6 L90.6 357.2 L91.1 355.9 L91.6 354.5 L92.1 353.2 L92.6 351.8 L93.1 350.4 L93.6 349.1 L94.2 347.7 L94.7 346.3 L95.2 345.0 L95.7 343.6 L96.2 342.2 L96.7 340.9 L97.2 339.5 L97.7 338.1 L98.2 336.7 L98.7 335.4 L99.2 334.0 L99.7 332.6 L100.2 331.3 L100.7 329.9 L101.3 328.5 L101.8 327.2 L102.3 325.8 L102.8 324.5 L103.3 323.1 L103.8 321.7 L104.3 320.4 L104.8 319.0 L105.4 317.7 L105.9 316.3 L106.4 314.9 L106.9 313.6 L107.5 312.2 L108.0 310.9 L108.5 309.5 L109.0 308.2 L109.6 306.8 L110.1 305.5 L110.7 304.2 L111.2 302.8 L111.8 301.5 L112.3 300.2 L112.9 298.8 L113.4 297.5 L114.0 296.2 L114.5 294.8 L115.1 293.5 L115.7 292.2 L116.3 290.9 L116.8 289.6 L117.4 288.3 L118.0 287.0 L118.6 285.7 L119.2 284.4 L119.8 283.1 L120.4 281.8 L121.0 280.5 L121.6 279.2 L122.3 277.9 L122.9 276.6 L123.5 275.3 L124.2 274.0 L124.8 272.8 L125.5 271.5 L126.1 270.2 L126.8 268.9 L127.4 267.6 L128.1 266.3 L128.8 265.1 L129.5 263.8 L130.2 262.5 L130.9 261.2 L131.6 259.9 L132.3 258.7 L133.0 257.4 L133.7 256.1 L134.4 254.8 L135.2 253.5 L135.9 252.2 L136.7 251.0 L137.4 249.7 L138.2 248.4 L139.0 247.1 L139.8 245.9 L140.6 244.6 L141.4 243.4 L142.2 242.1 L143.0 240.9 L143.9 239.6 L144.7 238.4 L145.6 237.2 L146.5 236.0 L147.4 234.9 L148.3 233.7 L149.2 232.6 L150.1 231.4 L151.1 230.3 L152.0 229.2 L153.0 228.2 L154.0 227.1 L155.0 226.1 L156.1 225.1 L157.1 224.1 L158.2 223.1 L159.2 222.2 L160.3 221.3 L161.5 220.4 L162.6 219.5 L163.7 218.7 L164.9 217.9 L166.1 217.1 L167.3 216.4 L168.5 215.7 L169.7 215.0 L171.0 214.3 L172.2 213.7 L173.5 213.1 L174.8 212.5 L176.1 212.0 L177.4 211.5 L178.7 211.0 L180.0 210.6 L181.4 210.2 L182.7 209.8 L184.1 209.5 L185.5 209.2 L186.9 208.9 L188.3 208.7 L189.7 208.5 L191.1 208.3 L192.5 208.2 L194.0 208.1 L195.4 208.0 L196.9 208.0 L198.4 208.0 L199.8 208.1 L201.3 208.2 L202.8 208.3 L204.3 208.4 L205.7 208.6 L207.2 208.8 L208.7 209.0 L210.2 209.2 L211.6 209.5 L213.1 209.8 L214.6 210.1 L216.0 210.5 L217.5 210.9 L218.9 211.3 L220.4 211.7 L221.8 212.1 L223.2 212.6 L224.6 213.0 L226.0 213.5 L227.4 214.0 L228.8 214.5 L230.2 215.1 L231.5 215.6 L232.8 216.2 L234.2 216.8 L235.5 217.4 L236.8 218.0 L238.1 218.6 L239.4 219.3 L240.7 219.9 L242.0 220.6 L243.2 221.2 L244.5 221.9 L245.7 222.6 L247.0 223.3 L248.2 224.0 L249.5 224.8 L250.7 225.5 L251.9 226.2 L253.1 227.0 L254.3 227.7 L255.5 228.5 L256.7 229.3 L257.9 230.0 L259.1 230.8 L260.3 231.6 L261.5 232.4 L262.7 233.2 L263.9 234.0 L265.1 234.8 L266.3 235.6 L267.5 236.4 L268.6 237.2 L269.8 238.1 L271.0 238.9 L272.2 239.7 L273.4 240.5 L274.6 241.3 L275.8 242.2 L277.0 243.0 L278.1 243.8 L279.3 244.6 L280.5 245.4 L281.7 246.3 L282.9 247.1 L284.1 247.9 L285.3 248.7 L286.5 249.6 L287.7 250.4 L288.9 251.2 L290.1 252.1 L291.3 252.9 L292.5 253.7 L293.7 254.6 L294.8 255.4 L296.0 256.2 L297.2 257.1 L298.4 257.9 L299.6 258.7 L300.8 259.6 L302.0 260.4 L303.2 261.2 L304.4 262.1 L305.6 262.9 L306.8 263.8 L308.0 264.6 L309.2 265.5 L310.4 266.3 L311.5 267.1 L312.7 268.0 L313.9 268.8 L315.1 269.7 L316.3 270.5 L317.5 271.4 L318.7 272.2 L319.8 273.1 L321.0 274.0 L322.2 274.8 L323.4 275.7 L324.6 276.5 L325.7 277.4 L326.9 278.2 L328.1 279.1 L329.3 280.0 L330.4 280.8 L331.6 281.7 L332.8 282.5 L334.0 283.4 L335.1 284.3 L336.3 285.1 L337.5 286.0 L338.7 286.9 L339.8 287.7 L341.0 288.6 L342.2 289.4 L343.3 290.3 L344.5 291.2 L345.7 292.0 L346.8 292.9 L348.0 293.8 L349.2 294.6 L350.3 295.5 L351.5 296.3 L352.7 297.2 L353.9 298.1 L355.0 298.9 L356.2 299.8 L357.4 300.6 L358.5 301.5 L359.7 302.4 L360.9 303.2 L362.0 304.1 L363.2 304.9 L364.4 305.8 L365.6 306.6 L366.7 307.5 L367.9 308.3 L369.1 309.2 L370.3 310.0 L371.4 310.9 L372.6 311.7 L373.8 312.5 L375.0 313.4 L376.2 314.2 L377.3 315.1 L378.5 315.9 L379.7 316.7 L380.9 317.6 L382.1 318.4 L383.3 319.2 L384.5 320.0 L385.7 320.9 L386.9 321.7 L388.1 322.5 L389.3 323.3 L390.4 324.1 L391.6 324.9 L392.9 325.8 L394.1 326.6 L395.3 327.4 L396.5 328.2 L397.7 329.0 L398.9 329.8 L400.1 330.6 L401.3 331.4 L402.5 332.1 L403.8 332.9 L405.0 333.7 L406.2 334.5 L407.4 335.3 L408.6 336.0 L409.9 336.8 L411.1 337.6 L412.3 338.3 L413.6 339.1 L414.8 339.9 L416.0 340.6 L417.3 341.4 L418.5 342.1 L419.8 342.9 L421.0 343.6 L422.3 344.4 L423.5 345.1 L424.8 345.8 L426.0 346.6 L427.3 347.3 L428.5 348.0 L429.8 348.8 L431.0 349.5 L432.3 350.2 L433.6 350.9 L434.8 351.6 L436.1 352.4 L437.4 353.1 L438.6 353.8 L439.9 354.5 L441.2 355.2 L442.5 355.9 L443.7 356.6 L445.0 357.2 L446.3 357.9 L447.6 358.6 L448.9 359.3 L450.2 360.0 L451.4 360.6 L452.7 361.3 L454.0 362.0 L455.3 362.6 L456.6 363.3 L457.9 364.0 L459.2 364.6 L460.5 365.3 L461.8 365.9 L463.1 366.6 L464.4 367.2 L465.7 367.8 L467.0 368.5 L468.3 369.1 L469.6 369.7 L470.9 370.4 L472.3 371.0 L473.6 371.6 L474.9 372.2 L476.2 372.8 L477.5 373.4 L478.8 374.0 L480.2 374.6 L481.5 375.2 L482.8 375.8 L484.1 376.4 L485.5 377.0 L486.8 377.6 L488.1 378.2 L489.5 378.7 L490.8 379.3 L492.1 379.9 L493.5 380.5 L494.8 381.0 L496.1 381.6 L497.5 382.1 L498.8 382.7 L500.2 383.2 L501.5 383.8 L502.9 384.3 L504.2 384.9 L505.6 385.4 L506.9 385.9 L508.3 386.5 L509.6 387.0 L511.0 387.5 L512.3 388.0 L513.7 388.5 L515.1 389.0 L516.4 389.5 L517.8 390.0 L519.1 390.5 L520.5 391.0 L521.9 391.5 L523.2 392.0 L524.6 392.5 L526.0 393.0 L527.4 393.5 L528.7 393.9 L530.1 394.4 L531.5 394.9 L532.8 395.3 L534.2 395.8 L535.6 396.2 L537.0 396.7 L538.4 397.1 L539.7 397.6 L541.1 398.0 L542.5 398.4 L543.9 398.9 L545.3 399.3 L546.7 399.7 L548.1 400.1 L549.5 400.5 L550.9 401.0 L552.2 401.4 L553.6 401.8 L555.0 402.2 L556.4 402.6 L557.8 402.9 L559.2 403.3 L560.6 403.7 L562.0 404.1 L563.4 404.5 L564.8 404.8 L566.2 405.2 L567.7 405.6 L569.1 405.9 L570.5 406.3 L571.9 406.6 L573.3 407.0 L574.7 407.3" fill="none" stroke="#000" stroke-width="1.9" stroke-linejoin="round"/>
<path d="M47.4 444.5 L49.0 444.4 L50.4 444.2 L51.7 443.7 L52.9 443.0 L54.0 442.2 L55.0 441.3 L55.9 440.4 L56.9 439.3 L57.7 438.3 L58.6 437.2 L59.4 436.1 L60.2 434.9 L61.0 433.8 L61.7 432.7 L62.5 431.5 L63.2 430.3 L63.8 429.1 L64.5 427.9 L65.1 426.7 L65.8 425.5 L66.4 424.2 L67.0 423.0 L67.6 421.8 L68.2 420.5 L68.7 419.2 L69.3 418.0 L69.9 416.7 L70.4 415.5 L71.0 414.2 L71.5 412.9 L72.1 411.6 L72.6 410.4 L73.2 409.1 L73.7 407.9 L74.3 406.6 L74.9 405.3 L75.5 404.1 L76.1 402.8 L76.6 401.6 L77.2 400.4 L77.8 399.1 L78.4 397.9 L79.0 396.6 L79.6 395.4 L80.2 394.2 L80.8 392.9 L81.4 391.7 L82.0 390.5 L82.6 389.2 L83.2 388.0 L83.8 386.8 L84.3 385.5 L84.9 384.3 L85.5 383.0 L86.0 381.8 L86.6 380.5 L87.1 379.3 L87.7 378.0 L88.2 376.7 L88.7 375.5 L89.3 374.2 L89.8 372.9 L90.3 371.7 L90.8 370.4 L91.4 369.1 L91.9 367.8 L92.4 366.6 L92.9 365.3 L93.5 364.0 L94.0 362.7 L94.5 361.5 L95.0 360.2 L95.6 358.9 L96.1 357.6 L96.6 356.4 L97.2 355.1 L97.7 353.8 L98.3 352.5 L98.8 351.3 L99.3 350.0 L99.9 348.7 L100.4 347.4 L101.0 346.2 L101.5 344.9 L102.1 343.6 L102.6 342.4 L103.2 341.1 L103.8 339.8 L104.3 338.6 L104.9 337.3 L105.5 336.0 L106.0 334.8 L106.6 333.5 L107.2 332.3 L107.7 331.0 L108.3 329.8 L108.9 328.5 L109.5 327.3 L110.1 326.0 L110.7 324.8 L111.3 323.5 L111.9 322.3 L112.5 321.1 L113.1 319.8 L113.7 318.6 L114.3 317.4 L114.9 316.1 L115.5 314.9 L116.2 313.7 L116.8 312.5 L117.4 311.3 L118.0 310.0 L118.7 308.8 L119.3 307.6 L120.0 306.4 L120.6 305.2 L121.3 304.0 L121.9 302.9 L122.6 301.7 L123.3 300.5 L123.9 299.3 L124.6 298.1 L125.3 297.0 L126.0 295.8 L126.7 294.6 L127.4 293.5 L128.1 292.3 L128.8 291.2 L129.5 290.0 L130.2 288.9 L130.9 287.7 L131.7 286.6 L132.4 285.5 L133.2 284.3 L133.9 283.2 L134.7 282.1 L135.4 280.9 L136.2 279.8 L137.0 278.7 L137.8 277.6 L138.6 276.5 L139.4 275.3 L140.2 274.2 L141.0 273.1 L141.9 272.0 L142.7 270.9 L143.6 269.8 L144.4 268.7 L145.3 267.5 L146.2 266.4 L147.1 265.3 L148.0 264.3 L148.9 263.2 L149.8 262.1 L150.7 261.0 L151.7 260.0 L152.6 258.9 L153.6 257.9 L154.6 256.9 L155.6 255.9 L156.6 254.9 L157.6 253.9 L158.6 253.0 L159.6 252.1 L160.7 251.1 L161.8 250.3 L162.8 249.4 L163.9 248.5 L165.0 247.7 L166.1 246.9 L167.3 246.2 L168.4 245.4 L169.6 244.7 L170.7 244.0 L171.9 243.4 L173.1 242.8 L174.3 242.2 L175.5 241.6 L176.8 241.1 L178.0 240.6 L179.3 240.1 L180.6 239.6 L181.8 239.2 L183.1 238.8 L184.4 238.4 L185.7 238.1 L187.0 237.8 L188.4 237.5 L189.7 237.2 L191.0 237.0 L192.4 236.8 L193.7 236.6 L195.1 236.4 L196.4 236.3 L197.8 236.2 L199.2 236.1 L200.6 236.0 L201.9 236.0 L203.3 235.9 L204.7 235.9 L206.1 236.0 L207.4 236.0 L208.8 236.1 L210.2 236.1 L211.6 236.2 L213.0 236.4 L214.4 236.5 L215.7 236.7 L217.1 236.9 L218.5 237.1 L219.9 237.3 L221.2 237.5 L222.6 237.8 L224.0 238.1 L225.3 238.4 L226.7 238.7 L228.0 239.0 L229.4 239.4 L230.7 239.7 L232.0 240.1 L233.3 240.5 L234.6 240.9 L235.9 241.4 L237.2 241.8 L238.5 242.3 L239.8 242.8 L241.1 243.2 L242.4 243.7 L243.6 244.3 L244.9 244.8 L246.1 245.3 L247.4 245.9 L248.6 246.4 L249.9 247.0 L251.1 247.6 L252.3 248.2 L253.6 248.8 L254.8 249.4 L256.0 250.0 L257.2 250.7 L258.4 251.3 L259.6 252.0 L260.8 252.6 L262.0 253.3 L263.2 254.0 L264.4 254.6 L265.6 255.3 L266.8 256.0 L268.0 256.7 L269.2 257.4 L270.3 258.2 L271.5 258.9 L272.7 259.6 L273.9 260.3 L275.0 261.0 L276.2 261.8 L277.4 262.5 L278.5 263.3 L279.7 264.0 L280.9 264.7 L282.0 265.5 L283.2 266.2 L284.3 267.0 L285.5 267.7 L286.7 268.5 L287.8 269.2 L289.0 270.0 L290.1 270.7 L291.3 271.5 L292.5 272.2 L293.6 273.0 L294.8 273.7 L295.9 274.5 L297.1 275.2 L298.2 275.9 L299.4 276.7 L300.6 277.4 L301.7 278.2 L302.9 278.9 L304.0 279.6 L305.2 280.4 L306.4 281.1 L307.5 281.9 L308.7 282.6 L309.9 283.3 L311.0 284.1 L312.2 284.8 L313.3 285.6 L314.5 286.3 L315.7 287.0 L316.8 287.8 L318.0 288.5 L319.1 289.2 L320.3 290.0 L321.5 290.7 L322.6 291.4 L323.8 292.2 L324.9 292.9 L326.1 293.7 L327.3 294.4 L328.4 295.1 L329.6 295.9 L330.7 296.6 L331.9 297.3 L333.1 298.1 L334.2 298.8 L335.4 299.5 L336.5 300.3 L337.7 301.0 L338.9 301.8 L340.0 302.5 L341.2 303.2 L342.3 304.0 L343.5 304.7 L344.7 305.4 L345.8 306.2 L347.0 306.9 L348.1 307.6 L349.3 308.4 L350.5 309.1 L351.6 309.8 L352.8 310.6 L354.0 311.3 L355.1 312.0 L356.3 312.8 L357.4 313.5 L358.6 314.2 L359.8 314.9 L360.9 315.7 L362.1 316.4 L363.3 317.1 L364.4 317.9 L365.6 318.6 L366.8 319.3 L367.9 320.0 L369.1 320.7 L370.3 321.5 L371.5 322.2 L372.6 322.9 L373.8 323.6 L375.0 324.3 L376.2 325.0 L377.3 325.8 L378.5 326.5 L379.7 327.2 L380.9 327.9 L382.0 328.6 L383.2 329.3 L384.4 330.0 L385.6 330.7 L386.8 331.4 L387.9 332.1 L389.1 332.8 L390.3 333.5 L391.5 334.2 L392.7 334.9 L393.9 335.6 L395.1 336.3 L396.3 336.9 L397.4 337.6 L398.6 338.3 L399.8 339.0 L401.0 339.7 L402.2 340.3 L403.4 341.0 L404.6 341.7 L405.8 342.4 L407.0 343.0 L408.2 343.7 L409.4 344.4 L410.6 345.0 L411.9 345.7 L413.1 346.3 L414.3 347.0 L415.5 347.6 L416.7 348.3 L417.9 348.9 L419.1 349.6 L420.3 350.2 L421.6 350.9 L422.8 351.5 L424.0 352.1 L425.2 352.8 L426.4 353.4 L427.7 354.0 L428.9 354.7 L430.1 355.3 L431.4 355.9 L432.6 356.5 L433.8 357.2 L435.0 357.8 L436.3 358.4 L437.5 359.0 L438.7 359.6 L440.0 360.2 L441.2 360.8 L442.5 361.4 L443.7 362.0 L444.9 362.6 L446.2 363.2 L447.4 363.8 L448.7 364.4 L449.9 365.0 L451.2 365.5 L452.4 366.1 L453.7 366.7 L454.9 367.3 L456.2 367.8 L457.4 368.4 L458.7 369.0 L459.9 369.6 L461.2 370.1 L462.4 370.7 L463.7 371.2 L465.0 371.8 L466.2 372.3 L467.5 372.9 L468.8 373.4 L470.0 374.0 L471.3 374.5 L472.6 375.0 L473.8 375.6 L475.1 376.1 L476.4 376.6 L477.6 377.2 L478.9 377.7 L480.2 378.2 L481.5 378.7 L482.7 379.2 L484.0 379.7 L485.3 380.3 L486.6 380.8 L487.9 381.3 L489.1 381.8 L490.4 382.3 L491.7 382.8 L493.0 383.2 L494.3 383.7 L495.6 384.2 L496.9 384.7 L498.1 385.2 L499.4 385.7 L500.7 386.1 L502.0 386.6 L503.3 387.1 L504.6 387.5 L505.9 388.0 L507.2 388.4 L508.5 388.9 L509.8 389.3 L511.1 389.8 L512.4 390.2 L513.7 390.7 L515.0 391.1 L516.3 391.6 L517.6 392.0 L518.9 392.4 L520.2 392.8 L521.5 393.3 L522.8 393.7 L524.2 394.1 L525.5 394.5 L526.8 394.9 L528.1 395.3 L529.4 395.7 L530.7 396.1 L532.0 396.5 L533.4 396.9 L534.7 397.3 L536.0 397.7 L537.3 398.1 L538.6 398.4 L540.0 398.8 L541.3 399.2 L542.6 399.6 L543.9 399.9 L545.3 400.3 L546.6 400.6 L547.9 401.0 L549.3 401.3 L550.6 401.7 L551.9 402.0 L553.2 402.4 L554.6 402.7 L555.9 403.0 L557.3 403.4 L558.6 403.7 L559.9 404.0 L561.3 404.3 L562.6 404.7 L563.9 405.0 L565.3 405.3 L566.6 405.6 L568.0 405.9 L569.3 406.2 L570.7 406.5 L572.0 406.8 L573.3 407.0 L574.7 407.3" fill="none" stroke="#ff0000" stroke-width="1.9" stroke-linejoin="round"/>
<path d="M136.0 251.7 V336.6 M129.7 251.7 H142.3 M129.7 336.6 H142.3 M164.5 235.9 V302.4 M158.2 235.9 H170.8 M158.2 302.4 H170.8 M188.1 163.8 V302.6 M181.8 163.8 H194.4 M181.8 302.6 H194.4 M191.9 166.7 V288.4 M185.6 166.7 H198.2 M185.6 288.4 H198.2 M194.0 240.5 V314.1 M187.7 240.5 H200.3 M187.7 314.1 H200.3 M219.8 209.8 V289.1 M213.5 209.8 H226.1 M213.5 289.1 H226.1 M225.4 199.3 V296.0 M219.1 199.3 H231.7 M219.1 296.0 H231.7 M280.8 6.0 V259.8 M274.5 259.8 H287.1 M288.7 226.5 V311.9 M282.4 226.5 H295.0 M282.4 311.9 H295.0 M293.5 269.2 V314.4 M287.2 269.2 H299.8 M287.2 314.4 H299.8" fill="none" stroke="#000" stroke-width="1.15"/>
<circle cx="136.0" cy="294.2" r="4.5" fill="none" stroke="#000" stroke-width="1.15"/>
<circle cx="164.5" cy="269.4" r="4.5" fill="none" stroke="#000" stroke-width="1.15"/>
<circle cx="188.1" cy="233.3" r="4.5" fill="none" stroke="#000" stroke-width="1.15"/>
<circle cx="191.9" cy="227.0" r="4.5" fill="none" stroke="#000" stroke-width="1.15"/>
<circle cx="194.0" cy="277.3" r="4.5" fill="none" stroke="#000" stroke-width="1.15"/>
<circle cx="219.8" cy="249.0" r="4.5" fill="none" stroke="#000" stroke-width="1.15"/>
<circle cx="225.4" cy="247.5" r="4.5" fill="none" stroke="#000" stroke-width="1.15"/>
<circle cx="280.8" cy="100.7" r="4.5" fill="none" stroke="#000" stroke-width="1.15"/>
<circle cx="288.7" cy="269.2" r="4.5" fill="none" stroke="#000" stroke-width="1.15"/>
<circle cx="293.5" cy="291.9" r="4.5" fill="none" stroke="#000" stroke-width="1.15"/>
<path d="M77.7 373.8 V418.5 M71.4 373.8 H84.0 M71.4 418.5 H84.0 M102.5 343.9 V390.4 M96.2 343.9 H108.8 M96.2 390.4 H108.8 M140.0 245.1 V343.6 M133.7 245.1 H146.3 M133.7 343.6 H146.3 M183.3 234.2 V337.8 M177.0 234.2 H189.6 M177.0 337.8 H189.6 M229.5 224.5 V329.5 M223.2 224.5 H235.8 M223.2 329.5 H235.8 M276.5 254.4 V341.4 M270.2 254.4 H282.8 M270.2 341.4 H282.8 M326.7 305.2 V368.5 M320.4 305.2 H333.0 M320.4 368.5 H333.0 M434.4 326.8 V393.9 M428.1 326.8 H440.7 M428.1 393.9 H440.7" fill="none" stroke="#ff0000" stroke-width="1.15"/>
<path d="M77.7 390.9 L73.1 398.9 L82.3 398.9 Z" fill="none" stroke="#ff0000" stroke-width="1.15"/>
<path d="M102.5 362.0 L97.9 370.0 L107.1 370.0 Z" fill="none" stroke="#ff0000" stroke-width="1.15"/>
<path d="M140.0 289.0 L135.4 297.0 L144.6 297.0 Z" fill="none" stroke="#ff0000" stroke-width="1.15"/>
<path d="M183.3 280.7 L178.7 288.7 L187.9 288.7 Z" fill="none" stroke="#ff0000" stroke-width="1.15"/>
<path d="M229.5 271.8 L224.9 279.8 L234.1 279.8 Z" fill="none" stroke="#ff0000" stroke-width="1.15"/>
<path d="M276.5 292.7 L271.9 300.7 L281.1 300.7 Z" fill="none" stroke="#ff0000" stroke-width="1.15"/>
<path d="M326.7 331.7 L322.1 339.7 L331.3 339.7 Z" fill="none" stroke="#ff0000" stroke-width="1.15"/>
<path d="M434.4 355.2 L429.8 363.2 L439.0 363.2 Z" fill="none" stroke="#ff0000" stroke-width="1.15"/>
<path d="M64.2 426.1 L73.0 434.9 M64.2 434.9 L73.0 426.1 M66.2 415.8 L75.0 424.6 M66.2 424.6 L75.0 415.8 M67.3 417.1 L76.1 425.9 M67.3 425.9 L76.1 417.1 M73.9 391.9 L82.7 400.7 M73.9 400.7 L82.7 391.9" fill="none" stroke="#0000ff" stroke-width="1.15"/>
<path d="M88.4 360.6 V377.8 M82.1 360.6 H94.7 M82.1 377.8 H94.7 M98.9 347.6 V359.2 M92.6 347.6 H105.2 M92.6 359.2 H105.2 M109.2 329.8 V341.6 M102.9 329.8 H115.5 M102.9 341.6 H115.5 M125.8 306.9 V320.3 M119.5 306.9 H132.1 M119.5 320.3 H132.1 M140.6 271.2 V285.8 M134.3 271.2 H146.9 M134.3 285.8 H146.9 M152.3 259.6 V276.2 M146.0 259.6 H158.6 M146.0 276.2 H158.6 M152.3 270.5 V284.9 M146.0 270.5 H158.6 M146.0 284.9 H158.6 M178.4 246.1 V262.7 M172.1 246.1 H184.7 M172.1 262.7 H184.7 M178.4 254.8 V271.2 M172.1 254.8 H184.7 M172.1 271.2 H184.7 M193.4 220.6 V241.4 M187.1 220.6 H199.7 M187.1 241.4 H199.7 M193.6 229.6 V247.6 M187.3 229.6 H199.9 M187.3 247.6 H199.9 M193.4 231.0 V249.6 M187.1 231.0 H199.7 M187.1 249.6 H199.7 M207.6 240.2 V257.2 M201.3 240.2 H213.9 M201.3 257.2 H213.9 M204.6 242.4 V259.0 M198.3 242.4 H210.9 M198.3 259.0 H210.9 M224.3 249.4 V265.8 M218.0 249.4 H230.6 M218.0 265.8 H230.6 M230.6 238.9 V256.3 M224.3 238.9 H236.9 M224.3 256.3 H236.9 M257.9 252.8 V268.4 M251.6 252.8 H264.2 M251.6 268.4 H264.2 M258.0 254.7 V273.7 M251.7 254.7 H264.3 M251.7 273.7 H264.3 M257.9 259.5 V275.1 M251.6 259.5 H264.2 M251.6 275.1 H264.2 M274.6 271.6 V286.8 M268.3 271.6 H280.9 M268.3 286.8 H280.9 M276.8 269.0 V281.8 M270.5 269.0 H283.1 M270.5 281.8 H283.1 M284.0 268.7 V281.9 M277.7 268.7 H290.3 M277.7 281.9 H290.3 M311.4 286.9 V300.1 M305.1 286.9 H317.7 M305.1 300.1 H317.7 M311.4 298.3 V310.7 M305.1 298.3 H317.7 M305.1 310.7 H317.7 M323.4 299.6 V312.8 M317.1 299.6 H329.7 M317.1 312.8 H329.7 M325.6 303.4 V315.6 M319.3 303.4 H331.9 M319.3 315.6 H331.9 M336.9 311.3 V322.3 M330.6 311.3 H343.2 M330.6 322.3 H343.2 M364.0 325.1 V335.9 M357.7 325.1 H370.3 M357.7 335.9 H370.3 M365.3 326.9 V337.1 M359.0 326.9 H371.6 M359.0 337.1 H371.6 M375.5 329.6 V340.8 M369.2 329.6 H381.8 M369.2 340.8 H381.8 M375.5 333.6 V343.6 M369.2 333.6 H381.8 M369.2 343.6 H381.8 M375.4 336.6 V346.6 M369.1 336.6 H381.7 M369.1 346.6 H381.7 M375.6 339.8 V349.0 M369.3 339.8 H381.9 M369.3 349.0 H381.9 M375.5 342.6 V351.0 M369.2 342.6 H381.8 M369.2 351.0 H381.8 M418.4 357.8 V364.4 M412.1 357.8 H424.7 M412.1 364.4 H424.7 M415.6 361.4 V368.6 M409.3 361.4 H421.9 M409.3 368.6 H421.9 M424.8 366.0 V373.2 M418.5 366.0 H431.1 M418.5 373.2 H431.1 M472.1 386.0 V391.2 M465.8 386.0 H478.4 M465.8 391.2 H478.4 M524.5 408.3 V412.5 M518.2 408.3 H530.8 M518.2 412.5 H530.8 M576.9 420.5 V423.5 M570.6 420.5 H583.2 M570.6 423.5 H583.2" fill="none" stroke="#000" stroke-width="1.15"/>
<circle cx="88.4" cy="369.2" r="3.55" fill="#000"/>
<circle cx="98.9" cy="353.4" r="3.55" fill="#000"/>
<circle cx="109.2" cy="335.7" r="3.55" fill="#000"/>
<circle cx="125.8" cy="313.6" r="3.55" fill="#000"/>
<circle cx="140.6" cy="278.5" r="3.55" fill="#000"/>
<circle cx="152.3" cy="267.9" r="3.55" fill="#000"/>
<circle cx="152.3" cy="277.7" r="3.55" fill="#000"/>
<circle cx="178.4" cy="254.4" r="3.55" fill="#000"/>
<circle cx="178.4" cy="263.0" r="3.55" fill="#000"/>
<circle cx="193.4" cy="231.0" r="3.55" fill="#000"/>
<circle cx="193.6" cy="238.6" r="3.55" fill="#000"/>
<circle cx="193.4" cy="240.3" r="3.55" fill="#000"/>
<circle cx="207.6" cy="248.7" r="3.55" fill="#000"/>
<circle cx="204.6" cy="250.7" r="3.55" fill="#000"/>
<circle cx="224.3" cy="257.6" r="3.55" fill="#000"/>
<circle cx="230.6" cy="247.6" r="3.55" fill="#000"/>
<circle cx="257.9" cy="260.6" r="3.55" fill="#000"/>
<circle cx="258.0" cy="264.2" r="3.55" fill="#000"/>
<circle cx="257.9" cy="267.3" r="3.55" fill="#000"/>
<circle cx="274.6" cy="279.2" r="3.55" fill="#000"/>
<circle cx="276.8" cy="275.4" r="3.55" fill="#000"/>
<circle cx="284.0" cy="275.3" r="3.55" fill="#000"/>
<circle cx="311.4" cy="293.5" r="3.55" fill="#000"/>
<circle cx="311.4" cy="304.5" r="3.55" fill="#000"/>
<circle cx="323.4" cy="306.2" r="3.55" fill="#000"/>
<circle cx="325.6" cy="309.5" r="3.55" fill="#000"/>
<circle cx="336.9" cy="316.8" r="3.55" fill="#000"/>
<circle cx="364.0" cy="330.5" r="3.55" fill="#000"/>
<circle cx="365.3" cy="332.0" r="3.55" fill="#000"/>
<circle cx="375.5" cy="335.2" r="3.55" fill="#000"/>
<circle cx="375.5" cy="338.6" r="3.55" fill="#000"/>
<circle cx="375.4" cy="341.6" r="3.55" fill="#000"/>
<circle cx="375.6" cy="344.4" r="3.55" fill="#000"/>
<circle cx="375.5" cy="346.8" r="3.55" fill="#000"/>
<circle cx="418.4" cy="361.1" r="3.55" fill="#000"/>
<circle cx="415.6" cy="365.0" r="3.55" fill="#000"/>
<circle cx="424.8" cy="369.6" r="3.55" fill="#000"/>
<circle cx="472.1" cy="388.6" r="3.55" fill="#000"/>
<circle cx="524.5" cy="410.4" r="3.55" fill="#000"/>
<circle cx="576.9" cy="422.0" r="3.55" fill="#000"/>
<path d="M47.30 5.10 V449.85" stroke="#000" stroke-width="1.9" fill="none"/>
<path d="M46.35 448.90 H681.10" stroke="#000" stroke-width="1.9" fill="none"/>
<path d="M46.35 6.05 H681.10" stroke="#000" stroke-width="1.9" fill="none"/>
<path d="M680.45 5.10 V449.85" stroke="#000" stroke-width="1.3" fill="none"/>
<path d="M47.30 448.90 V436.20 M47.30 6.05 V18.75 M152.82 448.90 V436.20 M152.82 6.05 V18.75 M258.35 448.90 V436.20 M258.35 6.05 V18.75 M363.88 448.90 V436.20 M363.88 6.05 V18.75 M469.40 448.90 V436.20 M469.40 6.05 V18.75 M574.92 448.90 V436.20 M574.92 6.05 V18.75 M680.45 448.90 V436.20 M680.45 6.05 V18.75" fill="none" stroke="#000" stroke-width="1.7"/>
<path d="M47.30 444.50 H60.00 M680.45 444.50 H667.75 M47.30 356.80 H60.00 M680.45 356.80 H667.75 M47.30 269.10 H60.00 M680.45 269.10 H667.75 M47.30 181.40 H60.00 M680.45 181.40 H667.75 M47.30 93.70 H60.00 M680.45 93.70 H667.75 M47.30 6.00 H60.00 M680.45 6.00 H667.75" fill="none" stroke="#000" stroke-width="1.4"/>
<path d="M73.68 448.90 V442.40 M73.68 6.05 V12.55 M100.06 448.90 V442.40 M100.06 6.05 V12.55 M126.44 448.90 V442.40 M126.44 6.05 V12.55 M179.21 448.90 V442.40 M179.21 6.05 V12.55 M205.59 448.90 V442.40 M205.59 6.05 V12.55 M231.97 448.90 V442.40 M231.97 6.05 V12.55 M284.73 448.90 V442.40 M284.73 6.05 V12.55 M311.11 448.90 V442.40 M311.11 6.05 V12.55 M337.49 448.90 V442.40 M337.49 6.05 V12.55 M390.26 448.90 V442.40 M390.26 6.05 V12.55 M416.64 448.90 V442.40 M416.64 6.05 V12.55 M443.02 448.90 V442.40 M443.02 6.05 V12.55 M495.78 448.90 V442.40 M495.78 6.05 V12.55 M522.16 448.90 V442.40 M522.16 6.05 V12.55 M548.54 448.90 V442.40 M548.54 6.05 V12.55 M601.31 448.90 V442.40 M601.31 6.05 V12.55 M627.69 448.90 V442.40 M627.69 6.05 V12.55 M654.07 448.90 V442.40 M654.07 6.05 V12.55 M47.30 400.65 H53.80 M680.45 400.65 H673.95 M47.30 312.95 H53.80 M680.45 312.95 H673.95 M47.30 225.25 H53.80 M680.45 225.25 H673.95 M47.30 137.55 H53.80 M680.45 137.55 H673.95 M47.30 49.85 H53.80 M680.45 49.85 H673.95" fill="none" stroke="#000" stroke-width="1.3"/>
<g class="ser" font-size="17.6" fill="#000" text-anchor="middle">
<text x="47.3" y="467.0">0</text>
<text x="152.8" y="467.0">1</text>
<text x="258.4" y="467.0">2</text>
<text x="363.9" y="467.0">3</text>
<text x="469.4" y="467.0">4</text>
<text x="574.9" y="467.0">5</text>
<text x="680.5" y="467.0">6</text>
</g>
<g class="ser" font-size="17.6" fill="#000" text-anchor="end">
<text x="41.3" y="449.8">0</text>
<text x="41.3" y="362.1">1</text>
<text x="41.3" y="274.4">2</text>
<text x="41.3" y="186.7">3</text>
<text x="41.3" y="99.0">4</text>
<text x="41.3" y="11.3">5</text>
</g>
<text class="ser" font-size="17.6" fill="#000" x="333.8" y="492.9">q<tspan font-size="12.4" dy="-10.1">2</tspan><tspan dy="10.1"> [fm</tspan><tspan font-size="12.4" dy="-10.1">-2</tspan><tspan dy="10.1">]</tspan></text>
<text class="ser" font-size="17.6" fill="#000" transform="translate(18.5 314.3) rotate(-90)" x="0" y="0">|F<tspan font-size="12.4" dy="7.5">M</tspan><tspan dy="-7.5">(q)|</tspan><tspan font-size="12.4" dy="-10.1">2</tspan><tspan dy="10.1"> [in units of 10</tspan><tspan font-size="12.4" dy="-10.1">-4</tspan><tspan dy="10.1">]</tspan></text>
<rect x="427.0" y="37.2" width="200.1" height="131.9" fill="#fff" stroke="#000" stroke-width="1.2"/>
<path d="M434.3 50.1 H459.4" stroke="#000" stroke-width="1.9" fill="none"/>
<path d="M434.3 68.7 H459.4" stroke="#ff0000" stroke-width="1.9" fill="none"/>
<circle cx="446.8" cy="89.1" r="4.5" fill="none" stroke="#000" stroke-width="1.15"/>
<path d="M446.8 105.1 L442.2 113.1 L451.4 113.1 Z" fill="none" stroke="#ff0000" stroke-width="1.15"/>
<path d="M442.4 128.1 L451.2 136.9 M442.4 136.9 L451.2 128.1" fill="none" stroke="#0000ff" stroke-width="1.15"/>
<circle cx="446.8" cy="154.6" r="3.7" fill="#000"/>
<g class="ser" font-size="17.6" fill="#000">
<text x="472.4" y="55.8">N3LO500/N2LO500</text>
<text x="472.4" y="74.3">N3LO600/N2LO600</text>
<text x="472.4" y="93.6">Koebschall (1983)</text>
<text x="472.4" y="115.1">Frosch (1968)</text>
<text x="472.4" y="137.2">Walcher (1970)</text>
<text x="472.4" y="158.6">Kegel (2021)</text>
</g>
<path d="M155.5 88.5 L194.7 114.6 M504.7 396 L490 420.9" stroke="#000" stroke-width="1.15" fill="none"/>
<text class="san" font-size="17.8" fill="#000" x="161.6" y="130.0">Bacca et al</text>
<text class="san" font-size="17.8" fill="#000" x="217.1" y="427.0">Hiyama et al (AV8&#8217;+a simple 3NF)</text>
</svg></body></html>
